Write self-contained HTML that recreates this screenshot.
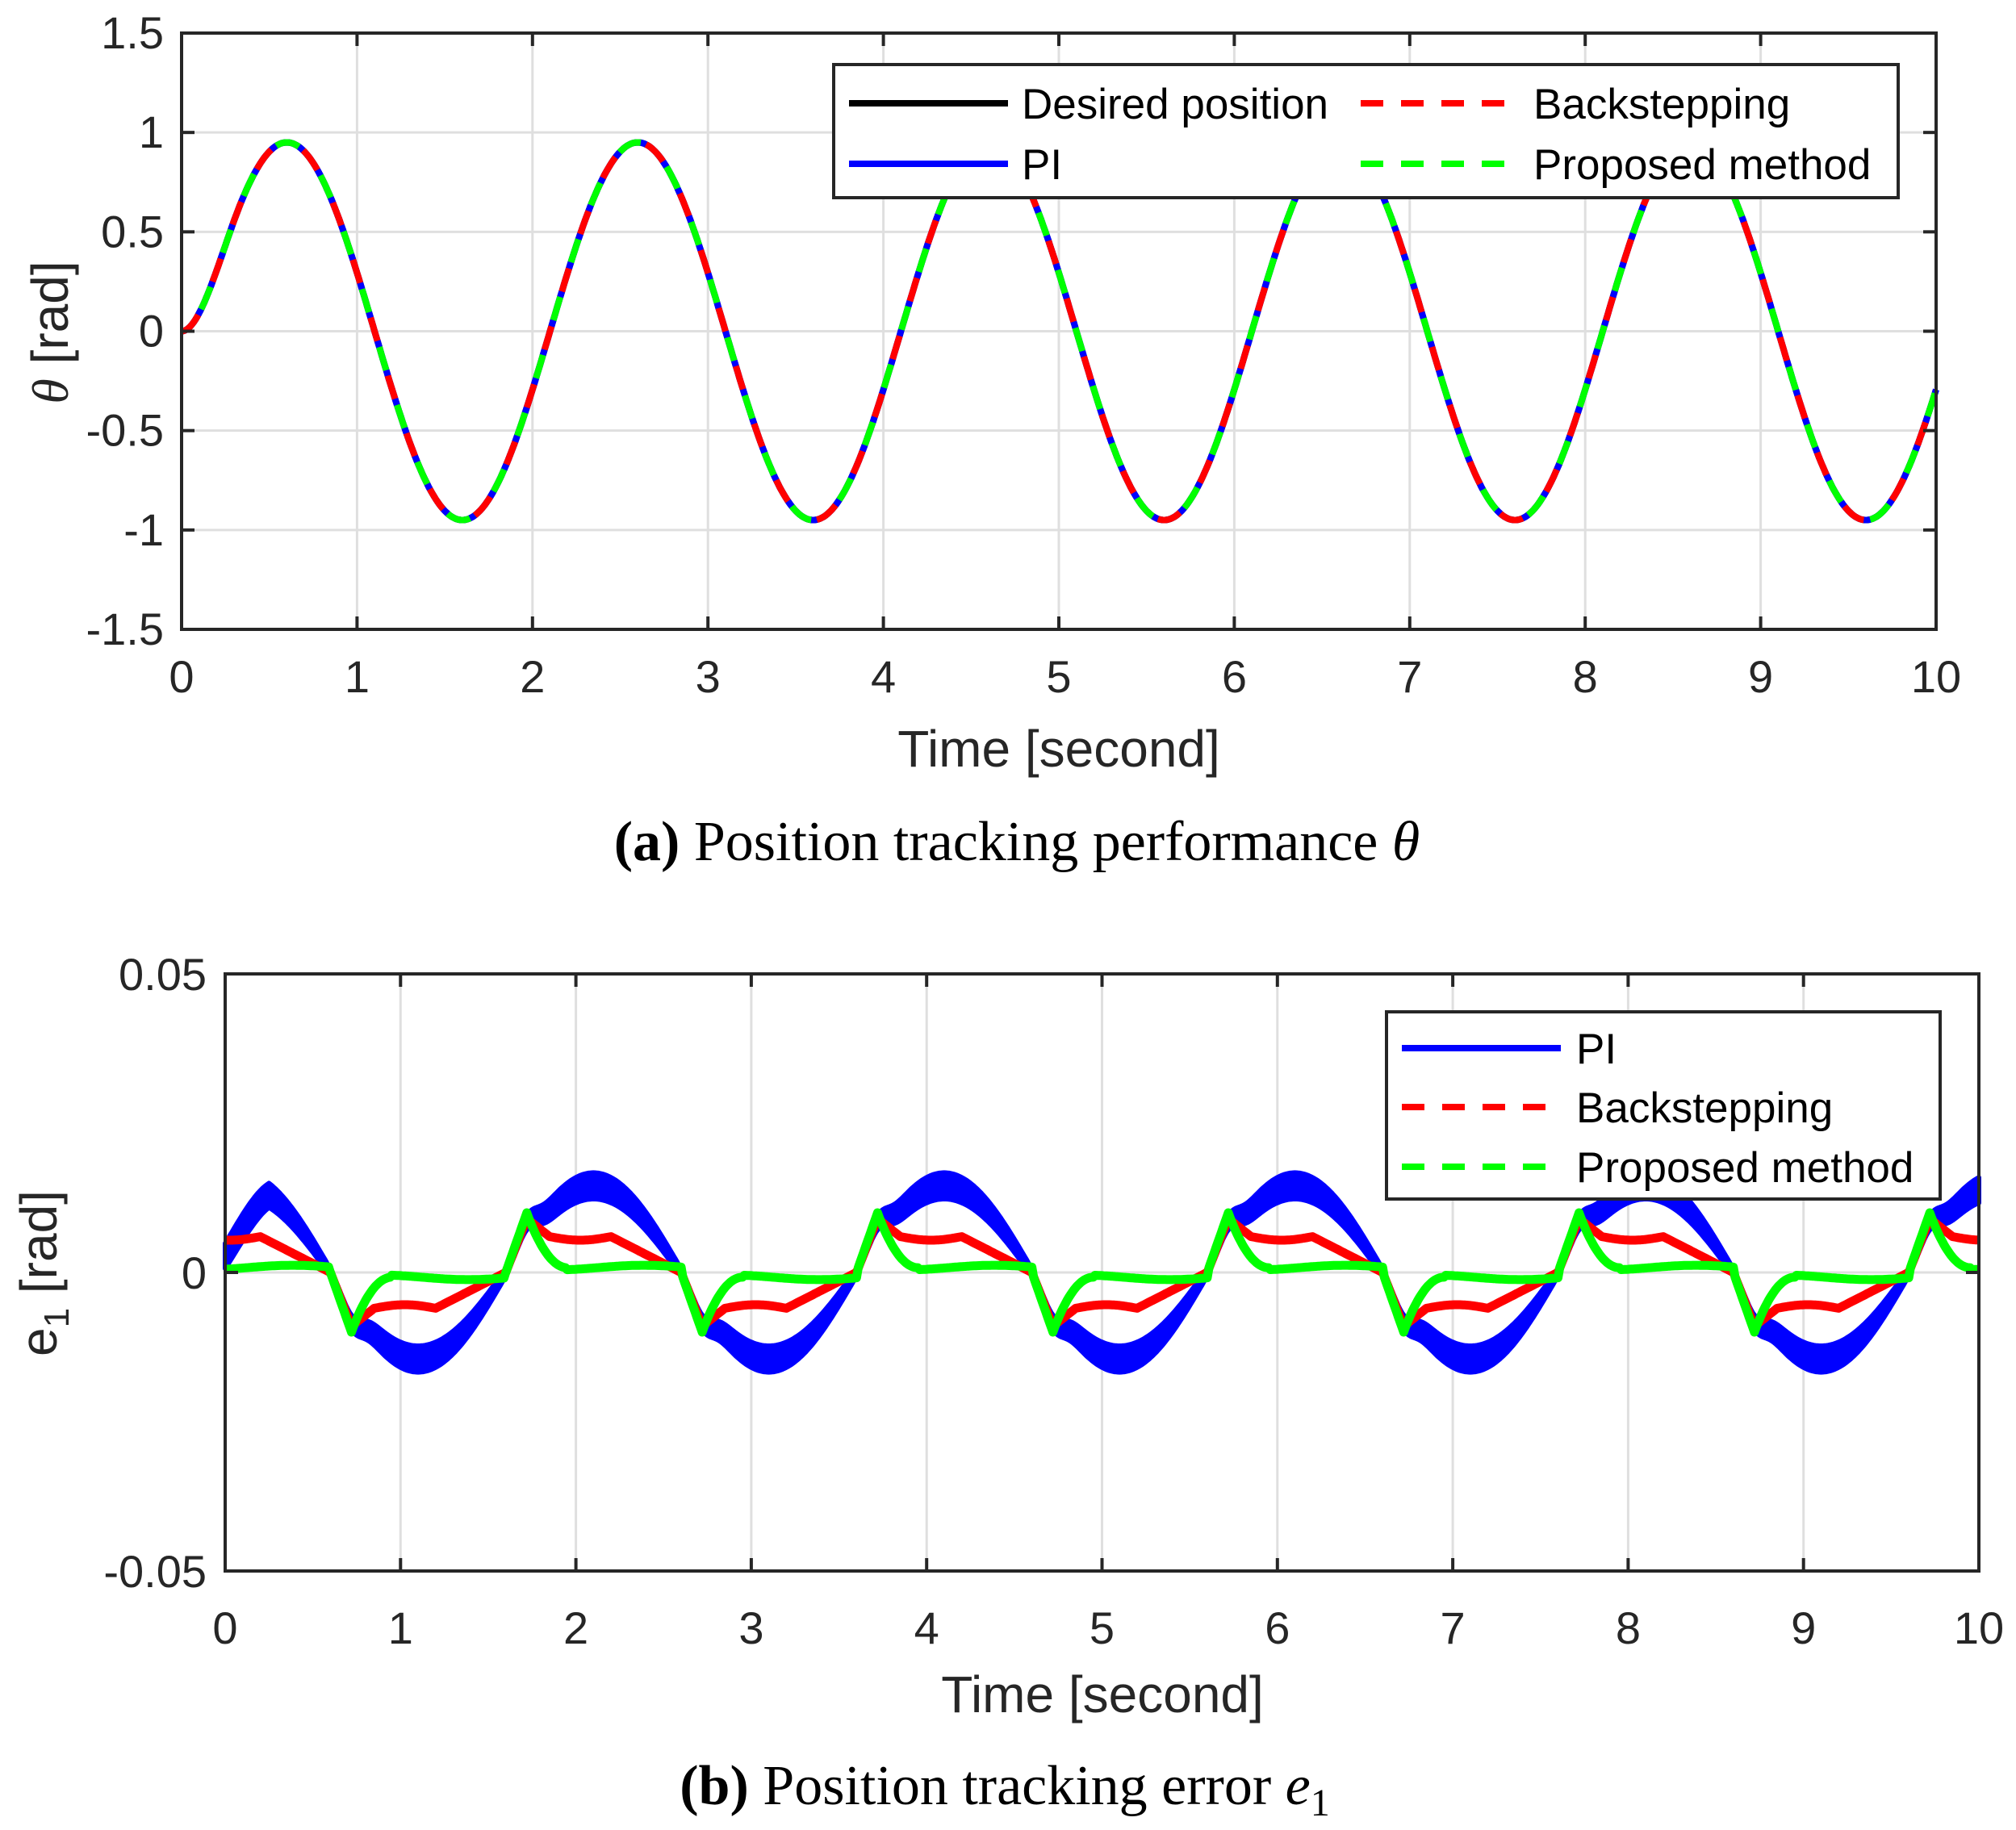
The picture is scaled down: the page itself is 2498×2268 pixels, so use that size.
<!DOCTYPE html>
<html><head><meta charset="utf-8"><style>
html,body{margin:0;padding:0;background:#fff}
svg{display:block}
text{font-family:"Liberation Sans",sans-serif;fill:#262626}
.cap{font-family:"Liberation Serif",serif;fill:#000}
</style></head><body>
<svg id="s" width="2498" height="2268" viewBox="0 0 2498 2268" xmlns="http://www.w3.org/2000/svg">
<g id="g1"></g>
<g font-size="56" text-anchor="end" id="yt1"></g>
<g font-size="56" text-anchor="middle" id="xt1"></g>
<text x="1312" y="950" font-size="64" text-anchor="middle">Time [second]</text>
<text transform="translate(84,412) rotate(-90)" font-size="64" text-anchor="middle"><tspan font-family="Liberation Serif" font-style="italic">θ</tspan> [rad]</text>
<text class="cap" x="1260" y="1066" font-size="70" text-anchor="middle"><tspan font-weight="bold">(a)</tspan> Position tracking performance <tspan font-style="italic">θ</tspan></text>
<g font-size="56" text-anchor="end">
<text x="256" y="1227">0.05</text><text x="256" y="1597">0</text><text x="256" y="1967">-0.05</text>
</g>
<g font-size="56" text-anchor="middle" id="xt2"></g>
<text x="1366" y="2122" font-size="64" text-anchor="middle">Time [second]</text>
<text transform="translate(70,1578) rotate(-90)" font-size="64" text-anchor="middle">e<tspan font-size="44" dy="15">1</tspan><tspan dy="-15"> [rad]</tspan></text>
<text class="cap" x="1245" y="2236" font-size="70" text-anchor="middle"><tspan font-weight="bold">(b)</tspan> Position tracking error <tspan font-style="italic">e</tspan><tspan font-size="48" dy="14">1</tspan></text>
<g id="leg">
<rect x="1033" y="80" width="1319" height="165" fill="#fff" stroke="#262626" stroke-width="4"/>
<line x1="1052" y1="128" x2="1249" y2="128" stroke="#000" stroke-width="8"/>
<line x1="1052" y1="203" x2="1249" y2="203" stroke="#0000ff" stroke-width="8"/>
<line x1="1686" y1="128" x2="1882" y2="128" stroke="#ff0000" stroke-width="8" stroke-dasharray="28,22"/>
<line x1="1686" y1="203" x2="1882" y2="203" stroke="#00ff00" stroke-width="8" stroke-dasharray="28,22"/>
<g font-size="53"><text x="1266" y="147" style="fill:#000">Desired position</text><text x="1266" y="222" style="fill:#000">PI</text>
<text x="1900" y="147" style="fill:#000">Backstepping</text><text x="1900" y="222" style="fill:#000">Proposed method</text></g>
<rect x="1718" y="1254" width="686" height="232" fill="#fff" stroke="#262626" stroke-width="4"/>
<line x1="1737" y1="1299" x2="1934" y2="1299" stroke="#0000ff" stroke-width="8"/>
<line x1="1737" y1="1372" x2="1934" y2="1372" stroke="#ff0000" stroke-width="8" stroke-dasharray="28,22"/>
<line x1="1737" y1="1446" x2="1934" y2="1446" stroke="#00ff00" stroke-width="8" stroke-dasharray="28,22"/>
<g font-size="53"><text x="1953" y="1318" style="fill:#000">PI</text><text x="1953" y="1391" style="fill:#000">Backstepping</text><text x="1953" y="1465" style="fill:#000">Proposed method</text></g>
</g>
</svg>
<script>
var NS="http://www.w3.org/2000/svg",g=document.getElementById('g1');
function el(t,a,p){var e=document.createElementNS(NS,t);for(var k in a)e.setAttribute(k,a[k]);(p||g).appendChild(e);return e;}
function axes(x0,x1,y0,y1,yt,xtId,ly){
 for(var i=0;i<=10;i++){var x=x0+(x1-x0)*i/10;el('line',{x1:x,x2:x,y1:y0,y2:y1,stroke:'#dfdfdf','stroke-width':3});
  var t=el('text',{x:x,y:ly},document.getElementById(xtId));t.textContent=i;}
 yt.forEach(function(y){el('line',{x1:x0,x2:x1,y1:y,y2:y,stroke:'#dfdfdf','stroke-width':3});});
}
function frame(x0,x1,y0,y1,yt){
 el('rect',{x:x0,y:y0,width:x1-x0,height:y1-y0,fill:'none',stroke:'#262626','stroke-width':4});
 for(var i=0;i<=10;i++){var x=x0+(x1-x0)*i/10;el('line',{x1:x,x2:x,y1:y1,y2:y1-16,stroke:'#262626','stroke-width':4});el('line',{x1:x,x2:x,y1:y0,y2:y0+16,stroke:'#262626','stroke-width':4});}
 yt.forEach(function(y){el('line',{x1:x0,x2:x0+16,y1:y,y2:y,stroke:'#262626','stroke-width':4});el('line',{x1:x1,x2:x1-16,y1:y,y2:y,stroke:'#262626','stroke-width':4});});
}
var X0=225,X1=2399,Y0=41,Y1=780;
var yt1=[],lab=['1.5','1','0.5','0','-0.5','-1','-1.5'];
for(var i=0;i<7;i++){var yy=Y0+(Y1-Y0)*i/6;yt1.push(yy);var t=el('text',{x:X0-22,y:yy+19},document.getElementById('yt1'));t.textContent=lab[i];}
axes(X0,X1,Y0,Y1,yt1,'xt1',858);
var YZ=(Y0+Y1)/2,YS=(Y1-Y0)/3;
function th(t){if(t<0.3)return 10.58*t*t-14.6*t*t*t;return 0.95*Math.sin(Math.PI*(t-0.1));}
var d='';for(var t=0;t<=10.0001;t+=0.01){d+=(t==0?'M':'L')+(X0+(X1-X0)*t/10).toFixed(1)+','+(YZ-th(t)*YS).toFixed(1);}
el('path',{d:d,fill:'none',stroke:'#000','stroke-width':8});
el('path',{d:d,fill:'none',stroke:'#0000ff','stroke-width':8});
el('path',{d:d,fill:'none',stroke:'#ff0000','stroke-width':8,'stroke-dasharray':'30,45'});
el('path',{d:d,fill:'none',stroke:'#00ff00','stroke-width':8,'stroke-dasharray':'30,45','stroke-dashoffset':'37'});
frame(X0,X1,Y0,Y1,yt1);
var B0=279,B1=2452,C0=1207,C1=1947,CZ=(C0+C1)/2,SC=(C1-C0)/0.1;
axes(B0,B1,C0,C1,[C0,CZ,C1],'xt2',2037);
function half(p,kind){
 if(kind=='pi'){var v=-0.0145*Math.sin(Math.PI*p);v-=0.003*Math.exp(-Math.pow((p-0.12)/0.08,2));return v;}
 if(kind=='bs'){if(p<0.12)return -0.009*p/0.12; if(p<0.25)return -0.009+0.003*(p-0.12)/0.13; if(p<0.6)return -0.006+0.0006*Math.sin(Math.PI*(p-0.25)/0.35); return -0.006*(1-(p-0.6)/0.4);}
 if(kind=='pm'){if(p<0.12)return -0.01*p/0.12; if(p<0.35){var q=(p-0.12)/0.23;return -0.01+0.0092*(1-Math.pow(1-q,2));} return -0.0008+0.0004*Math.sin(6*p);}
}
function e(t,k){var p=((t-0.6)%2+2)%2;return p<1?half(p,k):-half(p-1,k);}
function bx(t){return B0+(B1-B0)*t/10;}function by(v){return CZ-v*SC;}
var up='',lo=[];
for(var t=0;t<=10.0001;t+=0.01){var v=e(t,'pi')*(t<0.25?Math.min(1,t/0.25)*0.8+0.2:1),p=((t-0.6)%2+2)%2,w=0.0006+0.0016*Math.abs(Math.sin(Math.PI*p));
 up+=(t==0?'M':'L')+bx(t).toFixed(1)+','+by(v+w).toFixed(1);lo.unshift('L'+bx(t).toFixed(1)+','+by(v-w).toFixed(1));}
el('path',{d:up+lo.join('')+'Z',fill:'#0000ff',stroke:'#0000ff','stroke-width':6,'stroke-linejoin':'round'});
function pl(k,c){var d='';for(var t=0;t<=10.0001;t+=0.01){var v=e(t,k);d+=(t==0?'M':'L')+bx(t).toFixed(1)+','+by(v).toFixed(1);}
 el('path',{d:d,fill:'none',stroke:c,'stroke-width':11,'stroke-linejoin':'round'});}
pl('bs','#ff0000');pl('pm','#00ff00');
frame(B0,B1,C0,C1,[C0,CZ,C1]);
document.getElementById('s').appendChild(document.getElementById('leg'));
</script>
</body></html>
